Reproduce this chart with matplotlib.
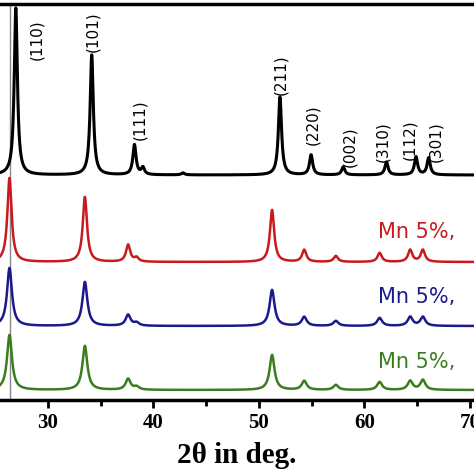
import numpy as np
import matplotlib.pyplot as plt

# peak positions (2theta) and heights above baseline, per sample
black_pos = [26.95, 34.15, 38.2, 39.0, 42.8, 52.0, 54.95, 58.0, 62.1, 64.9, 66.1]
black_amp = [167, 120, 30, 7, 2, 78, 20, 8, 13, 18, 17]
doped_pos = [26.35, 33.5, 37.6, 38.4, 51.25, 54.3, 57.3, 61.45, 64.35, 65.55]
red_amp = [84, 65, 17, 4, 52, 12, 6, 9, 12, 12]
blue_amp = [58, 44, 11, 3, 36, 9, 5, 8, 9, 9]
green_amp = [55, 44, 11, 3, 35, 9, 5, 8, 9, 10]
baselines = {"black": 225, "red": 138, "blue": 74, "green": 10}

hkl_labels = ["(110)", "(101)", "(111)", "(211)", "(220)", "(002)", "(310)", "(112)", "(301)"]
hkl_x = [28.9, 34.2, 38.7, 52.1, 55.1, 58.6, 61.7, 64.3, 66.8]
hkl_y = [360, 368, 280, 325, 275, 253, 258, 260, 258]

x = np.linspace(25.4, 70.5, 3000)


def profile(pos, amp, width):
    y = np.zeros_like(x)
    for p, a in zip(pos, amp):
        y += a / (1 + ((x - p) / width) ** 2)
    return y


plt.rcParams["font.family"] = ["Liberation Serif", "DejaVu Serif"]
fig = plt.figure(figsize=(4.74, 4.74), dpi=100)
ax = fig.add_axes([0, 74 / 474, 1, 396 / 474])

ax.axvline(26.4, color="#888888", lw=1)
ax.plot(x, baselines["black"] + profile(black_pos, black_amp, 0.18), color="black", lw=2.2)
ax.plot(x, baselines["red"] + profile(doped_pos, red_amp, 0.24), color="#c8191e", lw=1.8)
ax.plot(x, baselines["blue"] + profile(doped_pos, blue_amp, 0.28), color="#1a1a8c", lw=1.8)
ax.plot(x, baselines["green"] + profile(doped_pos, green_amp, 0.28), color="#3a7d1e", lw=1.8)

for lab, lx, ly in zip(hkl_labels, hkl_x, hkl_y):
    ax.text(lx, ly, lab, rotation=90, ha="center", va="center", fontsize=11,
            family=["DejaVu Sans"])

for col, ly in [("#c8191e", 168), ("#1a1a8c", 103), ("#3a7d1e", 38)]:
    ax.text(61.3, ly, "Mn 5%,", color=col, fontsize=15, ha="left", va="center",
            family=["DejaVu Sans"])

ax.set_xlim(25.45, 70.4)
ax.set_ylim(0, 396)
ax.set_yticks([])
ax.set_xticks([30, 40, 50, 60, 70])
ax.set_xticks([35, 45, 55, 65], minor=True)
ax.tick_params(axis="x", which="major", length=6, width=2, labelsize=15, direction="out")
ax.tick_params(axis="x", which="minor", length=4, width=2)
for t in ax.get_xticklabels():
    t.set_fontweight("bold")
for s in ax.spines.values():
    s.set_linewidth(2.5)
ax.spines["left"].set_visible(False)
ax.spines["right"].set_visible(False)
fig.text(0.5, 0.04, "2θ in deg.", ha="center", va="center", fontsize=21, fontweight="bold")

fig.savefig("out.png", dpi=100)
